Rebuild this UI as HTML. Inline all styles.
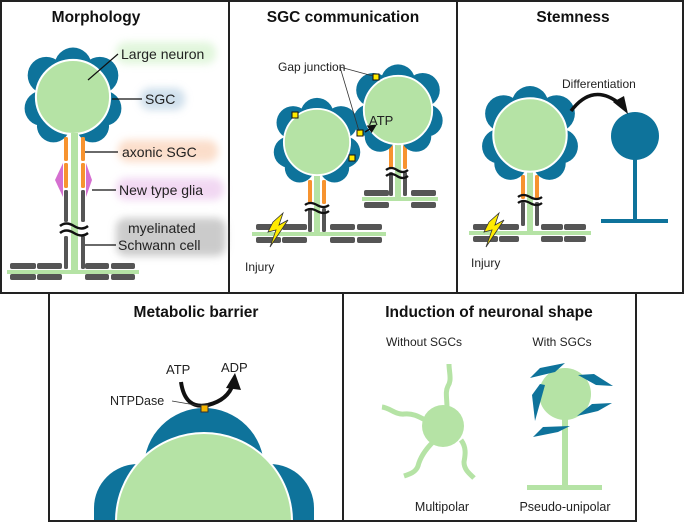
<!DOCTYPE html>
<html><head><style>
html,body{margin:0;padding:0;background:#fff;width:685px;height:523px;overflow:hidden;}
svg{display:block;}
text{font-family:"Liberation Sans",Arial,sans-serif;fill:#222;}
.t{font-weight:bold;font-size:15.5px;fill:#111;text-anchor:middle;}
.l{font-size:14px;}
.s{font-size:12px;}
</style></head><body>
<svg width="685" height="523" viewBox="0 0 685 523" xmlns="http://www.w3.org/2000/svg">
<defs>
<g id="nb">
<circle cx="-26" cy="-21" r="18" fill="#0e739b"/>
<circle cx="0" cy="-30" r="18" fill="#0e739b"/>
<circle cx="26" cy="-21" r="18" fill="#0e739b"/>
<circle cx="30" cy="11" r="17" fill="#0e739b"/>
<circle cx="-30" cy="11" r="17" fill="#0e739b"/>
<circle cx="-19" cy="28" r="16" fill="#0e739b"/>
<circle cx="19" cy="28" r="16" fill="#0e739b"/>
<circle cx="0" cy="0" r="36" fill="#b5e3a5" stroke="#fff" stroke-width="2"/>
</g>
<filter id="glow" x="-20%" y="-50%" width="140%" height="200%"><feGaussianBlur stdDeviation="4"/></filter>
<marker id="ah" markerWidth="6" markerHeight="6" refX="3" refY="3" orient="auto" markerUnits="strokeWidth"><path d="M0,0 L6,3 L0,6z" fill="#111"/></marker>
<clipPath id="mb"><rect x="50" y="294" width="292" height="226"/></clipPath>
</defs>
<g fill="none" stroke="#222" stroke-width="2">
<rect x="1" y="1" width="682" height="292"/>
<line x1="229" y1="1" x2="229" y2="293"/>
<line x1="457" y1="1" x2="457" y2="293"/>
<rect x="49" y="293" width="294" height="228"/>
<rect x="343" y="293" width="293" height="228"/>
</g>

<!-- Morphology -->
<text class="t" x="96" y="22">Morphology</text>
<rect x="116" y="42" width="100" height="22" rx="10" fill="#c9efc0" opacity=".55" filter="url(#glow)"/>
<rect x="140" y="88" width="45" height="22" rx="10" fill="#a9c6dd" opacity=".55" filter="url(#glow)"/>
<rect x="118" y="140" width="100" height="22" rx="10" fill="#f8c3a0" opacity=".55" filter="url(#glow)"/>
<rect x="116" y="178" width="108" height="22" rx="10" fill="#e6b8e8" opacity=".55" filter="url(#glow)"/>
<rect x="116" y="218" width="110" height="38" rx="10" fill="#999" opacity=".5" filter="url(#glow)"/>
<use href="#nb" transform="translate(73,97) scale(1.03)"/>
<rect x="71" y="133" width="7" height="140" fill="#b5e3a5"/>
<rect x="64" y="137" width="4" height="24" rx="1.5" fill="#f7932f"/>
<rect x="81" y="137" width="4" height="24" rx="1.5" fill="#f7932f"/>
<rect x="64" y="163" width="4" height="25" rx="1.5" fill="#f7932f"/>
<rect x="81" y="163" width="4" height="25" rx="1.5" fill="#f7932f"/>
<path d="M63,163 L55,180 L63,197z" fill="#d56fd0"/>
<path d="M86,163 L92,180 L86,197z" fill="#d56fd0"/>
<rect x="64" y="190" width="4" height="32" rx="1.5" fill="#555"/>
<rect x="81" y="190" width="4" height="32" rx="1.5" fill="#555"/>
<rect x="64" y="236" width="4" height="33" rx="1.5" fill="#555"/>
<rect x="81" y="236" width="4" height="33" rx="1.5" fill="#555"/>
<path d="M60,226 q6,-5 14,0 t14,0 M60,233 q6,-5 14,0 t14,0" stroke="#111" stroke-width="2.5" fill="none"/>
<g fill="#555">
<rect x="10" y="263" width="26" height="6" rx="2"/><rect x="37" y="263" width="25" height="6" rx="2"/>
<rect x="85" y="263" width="24" height="6" rx="2"/><rect x="111" y="263" width="24" height="6" rx="2"/>
<rect x="10" y="274" width="26" height="6" rx="2"/><rect x="37" y="274" width="25" height="6" rx="2"/>
<rect x="85" y="274" width="24" height="6" rx="2"/><rect x="111" y="274" width="24" height="6" rx="2"/>
</g>
<rect x="7" y="270" width="132" height="4" fill="#b5e3a5"/>
<g stroke="#111" stroke-width="1.2">
<line x1="88" y1="80" x2="118" y2="54"/>
<line x1="112" y1="99" x2="142" y2="99"/>
<line x1="85" y1="152" x2="118" y2="152"/>
<line x1="92" y1="190" x2="116" y2="190"/>
<line x1="85" y1="245" x2="116" y2="245"/>
</g>
<text class="l" x="121" y="59">Large neuron</text>
<text class="l" x="145" y="104">SGC</text>
<text class="l" x="122" y="157">axonic SGC</text>
<text class="l" x="119" y="195">New type glia</text>
<text class="l" x="128" y="233">myelinated</text>
<text class="l" x="118" y="250">Schwann cell</text>

<!-- SGC communication -->
<text class="t" x="343" y="22">SGC communication</text>
<rect x="395" y="140" width="6" height="60" fill="#b5e3a5"/>
<rect x="389" y="145" width="4" height="24" rx="1.5" fill="#f7932f"/>
<rect x="403" y="145" width="4" height="24" rx="1.5" fill="#f7932f"/>
<rect x="389" y="172" width="4" height="24" rx="1.5" fill="#555"/>
<rect x="403" y="172" width="4" height="24" rx="1.5" fill="#555"/>
<path d="M386,170 q5,-4 11,0 t11,0 M386,176 q5,-4 11,0 t11,0" stroke="#111" stroke-width="2.3" fill="none"/>
<g fill="#555"><rect x="364" y="190" width="25" height="6" rx="2"/><rect x="411" y="190" width="25" height="6" rx="2"/><rect x="364" y="202" width="25" height="6" rx="2"/><rect x="411" y="202" width="25" height="6" rx="2"/></g>
<rect x="362" y="197" width="76" height="4" fill="#b5e3a5"/>
<use href="#nb" transform="translate(398,110) scale(0.95)"/>
<rect x="314" y="172" width="6" height="62" fill="#b5e3a5"/>
<rect x="308" y="180" width="4" height="24" rx="1.5" fill="#f7932f"/>
<rect x="322" y="180" width="4" height="24" rx="1.5" fill="#f7932f"/>
<rect x="308" y="208" width="4" height="24" rx="1.5" fill="#555"/>
<rect x="322" y="208" width="4" height="24" rx="1.5" fill="#555"/>
<path d="M305,205 q5,-4 12,0 t12,0 M305,211 q5,-4 12,0 t12,0" stroke="#111" stroke-width="2.3" fill="none"/>
<g fill="#555">
<rect x="256" y="224" width="25" height="6" rx="2"/><rect x="282" y="224" width="25" height="6" rx="2"/><rect x="330" y="224" width="25" height="6" rx="2"/><rect x="357" y="224" width="25" height="6" rx="2"/>
<rect x="256" y="237" width="25" height="6" rx="2"/><rect x="282" y="237" width="25" height="6" rx="2"/><rect x="330" y="237" width="25" height="6" rx="2"/><rect x="357" y="237" width="25" height="6" rx="2"/>
</g>
<rect x="252" y="232" width="134" height="4" fill="#b5e3a5"/>
<use href="#nb" transform="translate(317,142) scale(0.92)"/>
<g fill="#ffeb00" stroke="#111" stroke-width="1">
<rect x="292" y="112" width="6" height="6"/>
<rect x="357" y="130" width="6" height="6"/>
<rect x="349" y="155" width="6" height="6"/>
<rect x="373" y="74" width="6" height="6"/>
</g>
<g stroke="#333" stroke-width="0.8"><line x1="340" y1="67" x2="373" y2="76"/><line x1="340" y1="67" x2="359" y2="131"/></g>
<text class="s" x="278" y="71">Gap junction</text>
<text class="s" x="369" y="125" style="font-size:13px">ATP</text>
<line x1="365" y1="132" x2="373" y2="127" stroke="#111" stroke-width="1.5" marker-end="url(#ah)"/>
<path d="M273,222 L283,213 L279,225 L288,220 L270,247 L276,230 L268,232z" fill="#ffeb00" stroke="#333" stroke-width="0.8"/>
<text class="s" x="245" y="271">Injury</text>

<!-- Stemness -->
<text class="t" x="573" y="22">Stemness</text>
<rect x="527" y="170" width="6" height="64" fill="#b5e3a5"/>
<rect x="521" y="175" width="4" height="24" rx="1.5" fill="#f7932f"/>
<rect x="535" y="175" width="4" height="24" rx="1.5" fill="#f7932f"/>
<rect x="521" y="202" width="4" height="24" rx="1.5" fill="#555"/>
<rect x="535" y="202" width="4" height="24" rx="1.5" fill="#555"/>
<path d="M518,197 q5,-4 12,0 t12,0 M518,203 q5,-4 12,0 t12,0" stroke="#111" stroke-width="2.3" fill="none"/>
<g fill="#555">
<rect x="473" y="224" width="25" height="6" rx="2"/><rect x="499" y="224" width="20" height="6" rx="2"/><rect x="541" y="224" width="22" height="6" rx="2"/><rect x="564" y="224" width="22" height="6" rx="2"/>
<rect x="473" y="236" width="25" height="6" rx="2"/><rect x="499" y="236" width="20" height="6" rx="2"/><rect x="541" y="236" width="22" height="6" rx="2"/><rect x="564" y="236" width="22" height="6" rx="2"/>
</g>
<rect x="469" y="231" width="122" height="4" fill="#b5e3a5"/>
<use href="#nb" transform="translate(530,135) scale(1.02)"/>
<path d="M489,222 L499,213 L495,225 L504,220 L486,247 L492,230 L484,232z" fill="#ffeb00" stroke="#333" stroke-width="0.8"/>
<text class="s" x="471" y="267">Injury</text>
<circle cx="635" cy="136" r="24" fill="#0e739b"/>
<rect x="633" y="158" width="4" height="63" fill="#0e739b"/>
<rect x="601" y="219" width="67" height="4" fill="#0e739b"/>
<path d="M571,111 Q593,82 620,104" stroke="#111" stroke-width="3.5" fill="none"/>
<path d="M613,102 L628,114 L624,96z" fill="#111"/>
<text class="s" x="562" y="88">Differentiation</text>

<!-- Metabolic barrier -->
<text class="t" x="196" y="317">Metabolic barrier</text>
<g clip-path="url(#mb)">
<circle cx="204" cy="468" r="60" fill="#0e739b"/>
<circle cx="138" cy="508" r="44" fill="#0e739b"/>
<circle cx="270" cy="508" r="44" fill="#0e739b"/>
<rect x="94" y="508" width="220" height="20" fill="#0e739b"/>
<circle cx="204" cy="521" r="88" fill="#b5e3a5" stroke="#fff" stroke-width="2"/>
</g>
<path d="M181,382 Q185,410 208,405 Q228,400 233,384" stroke="#111" stroke-width="4" fill="none"/>
<path d="M226,388 L235,373 L241,390z" fill="#111"/>
<rect x="201" y="405" width="7" height="7" fill="#f4b400" stroke="#333" stroke-width="1"/>
<line x1="172" y1="401" x2="201" y2="406" stroke="#333" stroke-width="0.8"/>
<text class="s" x="166" y="374" style="font-size:13px">ATP</text>
<text class="s" x="221" y="372" style="font-size:13px">ADP</text>
<text class="s" x="110" y="405" style="font-size:12.5px">NTPDase</text>

<!-- Induction -->
<text class="t" x="489" y="317">Induction of neuronal shape</text>
<text class="s" x="424" y="346" text-anchor="middle">Without SGCs</text>
<text class="s" x="562" y="346" text-anchor="middle">With SGCs</text>
<g stroke="#b5e3a5" stroke-width="5" fill="none">
<path d="M447,408 C447,398 445,392 448,386 C452,380 449,372 449,364"/>
<path d="M427,421 C418,416 412,413 404,414 C396,415 390,408 382,407"/>
<path d="M433,442 C425,450 420,458 418,466 C416,472 410,474 404,476"/>
<path d="M461,440 C467,448 465,456 464,462 C464,470 470,474 474,478"/>
</g>
<circle cx="443" cy="426" r="21" fill="#b5e3a5"/>
<rect x="562" y="410" width="6" height="78" fill="#b5e3a5"/>
<rect x="527" y="485" width="75" height="5" fill="#b5e3a5"/>
<circle cx="565" cy="394" r="26" fill="#b5e3a5"/>
<g fill="#0e739b">
<path d="M530,378 L540,368 L565,363 L555,372z"/>
<path d="M578,375 L594,374 L613,386 L596,385z"/>
<path d="M532,395 L540,384 L545,385 L535,421z"/>
<path d="M577,416 L592,404 L612,403 L598,411z"/>
<path d="M533,437 L543,427 L570,426 L558,432z"/>
</g>
<text class="s" x="442" y="511" text-anchor="middle" style="font-size:12.5px">Multipolar</text>
<text class="s" x="565" y="511" text-anchor="middle" style="font-size:12.5px">Pseudo-unipolar</text>
</svg>
</body></html>
